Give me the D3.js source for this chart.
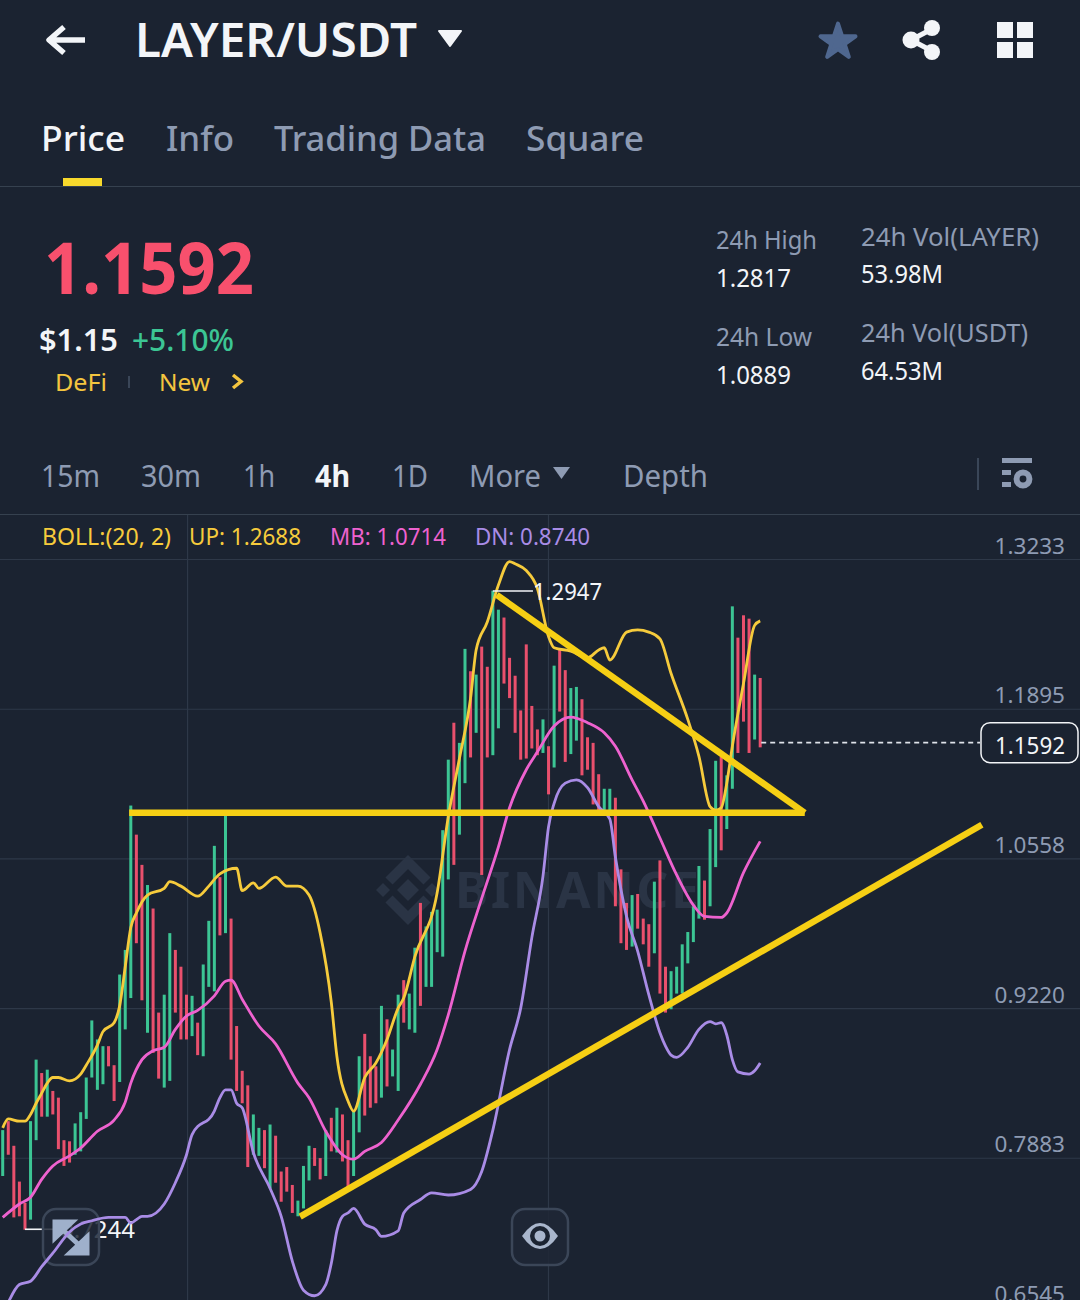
<!DOCTYPE html>
<html>
<head>
<meta charset="utf-8">
<script src="https://cdn.jsdelivr.net/npm/d3@7"></script>
<style>
  html, body { margin: 0; padding: 0; background: #1b2331; overflow: hidden; }
  svg { display: block; }
  text { font-family: "Noto Sans", Roboto, sans-serif; }
</style>
</head>
<body>
<div id="vis"></div>
<script>
// candles
const candleHigh = [
  0.813,0.821,0.799,0.767,0.748,0.821,0.876,0.864,0.867,0.848,
  0.842,0.804,0.803,0.819,0.829,0.860,0.911,0.894,0.888,0.888,
  0.871,0.952,0.974,1.103,1.077,1.050,1.032,1.011,0.918,0.934,
  0.989,0.974,0.959,0.934,0.933,0.909,0.961,1.000,1.067,1.039,
  1.095,1.002,0.906,0.866,0.853,0.827,0.815,0.813,0.818,0.808,
  0.776,0.780,0.764,0.750,0.781,0.799,0.797,0.788,0.813,0.824,
  0.833,0.827,0.804,0.830,0.879,0.899,0.879,0.870,0.924,0.912,
  0.885,0.934,0.947,0.935,0.976,1.016,0.995,1.008,1.010,1.081,
  1.144,1.177,1.159,1.243,1.223,1.220,1.245,1.227,1.295,1.278,
  1.271,1.235,1.219,1.188,1.247,1.192,1.171,1.180,1.156,1.228,
  1.242,1.224,1.208,1.209,1.198,1.164,1.159,1.131,1.118,1.118,
  1.110,1.046,1.016,1.023,1.024,1.002,0.997,1.035,1.054,0.959,
  0.955,0.959,0.979,0.990,1.013,1.049,1.036,1.082,1.143,1.147,
  1.130,1.281,1.253,1.273,1.270,1.220,1.217
];
const candleLow = [
  0.772,0.791,0.735,0.736,0.724,0.733,0.804,0.825,0.825,0.827,
  0.796,0.781,0.784,0.791,0.794,0.823,0.860,0.849,0.854,0.870,
  0.839,0.856,0.903,0.931,0.980,0.929,0.900,0.882,0.859,0.851,
  0.857,0.918,0.894,0.894,0.897,0.880,0.879,0.941,0.937,0.987,
  0.989,0.876,0.848,0.837,0.780,0.791,0.790,0.779,0.761,0.766,
  0.749,0.758,0.739,0.736,0.743,0.768,0.781,0.769,0.772,0.794,
  0.793,0.785,0.761,0.772,0.811,0.826,0.833,0.837,0.842,0.852,
  0.861,0.848,0.909,0.903,0.900,0.924,0.941,0.941,0.972,0.968,
  1.037,1.050,1.077,1.123,1.146,1.168,1.041,1.146,1.148,1.172,
  1.212,1.199,1.168,1.144,1.145,1.154,1.148,1.150,1.113,1.137,
  1.187,1.142,1.149,1.161,1.130,1.135,1.104,1.099,1.095,1.095,
  1.013,0.980,0.974,0.977,0.993,0.979,0.959,0.971,0.935,0.918,
  0.921,0.935,0.935,0.962,0.981,1.002,1.001,1.013,1.048,1.063,
  1.082,1.118,1.150,1.178,1.150,1.162,1.155
];
// 1 = green candle, 0 = red candle
const candleUp = [
  1,0,0,0,0,1,1,0,1,0,
  0,0,0,1,1,1,1,1,1,0,
  0,1,1,1,0,0,1,0,0,1,
  1,0,0,0,1,0,1,1,1,0,
  1,0,0,0,0,1,1,0,1,0,
  0,0,0,1,1,1,0,0,1,0,
  1,0,0,1,1,0,0,0,1,0,
  1,1,0,1,1,0,1,1,1,1,
  1,0,1,1,0,1,0,0,1,1,
  0,0,0,0,0,0,0,1,0,1,
  0,0,1,1,0,0,0,0,1,1,
  0,0,0,1,0,0,0,1,0,0,
  1,1,1,1,1,1,0,1,1,0,
  1,1,0,0,0,1,0
];

// BOLL bands, candle index and price
const upIndex = [
  0,1,3,4,5,6,7,8,9,10,12,14,15,17,18,20,21,22,23,24,
  26,29,30,32,35,37,39,42,43,45,46,49,51,53,55,57,59,60,62,63,
  65,67,69,71,72,74,78,80,82,84,85,87,89,91,92,94,96,98,99,102,
  105,107,108,109,112,114,116,118,120,123,125,127,128,129,130,131,133,135,136
];
const upValues = [
  0.815,0.823,0.821,0.821,0.827,0.837,0.846,0.855,0.860,0.860,0.857,0.863,0.871,0.889,0.901,0.909,0.924,0.959,0.994,1.007,
  1.023,1.029,1.035,1.031,1.022,1.031,1.042,1.047,1.027,1.034,1.029,1.039,1.031,1.031,1.023,0.989,0.927,0.879,0.839,0.830,
  0.860,0.873,0.894,0.922,0.931,0.968,1.025,1.093,1.145,1.199,1.242,1.267,1.300,1.321,1.319,1.313,1.297,1.254,1.244,1.241,
  1.235,1.242,1.244,1.233,1.258,1.260,1.258,1.252,1.221,1.180,1.147,1.102,1.099,1.101,1.123,1.156,1.212,1.264,1.268
];
const mbIndex = [
  0,3,5,7,9,12,14,17,20,22,23,25,27,29,31,33,35,38,40,41,
  43,46,49,53,55,58,61,63,65,68,71,75,78,80,83,86,89,91,94,96,
  99,102,105,108,110,113,115,118,121,124,126,129,130,133,136
];
const mbValues = [
  0.735,0.747,0.753,0.769,0.781,0.790,0.797,0.812,0.822,0.838,0.855,0.876,0.884,0.887,0.903,0.915,0.920,0.933,0.946,0.947,
  0.930,0.906,0.890,0.855,0.842,0.812,0.791,0.787,0.794,0.802,0.822,0.854,0.885,0.916,0.973,1.020,1.066,1.101,1.135,1.151,
  1.174,1.182,1.177,1.168,1.156,1.126,1.107,1.074,1.041,1.014,1.004,1.003,1.007,1.043,1.071
];
const dnIndex = [
  1,3,5,7,9,12,14,16,19,22,23,24,25,26,29,31,33,34,38,39,
  40,41,42,43,45,48,50,52,54,56,58,59,60,61,62,63,65,67,68,71,
  72,75,77,80,84,86,88,91,93,95,97,98,99,101,103,105,107,109,110,112,
  114,116,118,119,120,121,123,125,127,128,129,130,131,132,134,135,136
];
const dnValues = [
  0.659,0.675,0.678,0.691,0.703,0.722,0.729,0.732,0.735,0.735,0.730,0.733,0.736,0.736,0.747,0.766,0.791,0.809,0.830,0.842,
  0.849,0.849,0.837,0.833,0.793,0.761,0.736,0.696,0.670,0.665,0.675,0.694,0.723,0.736,0.739,0.743,0.729,0.724,0.718,0.723,
  0.739,0.751,0.757,0.755,0.760,0.776,0.813,0.885,0.922,0.985,1.040,1.084,1.105,1.123,1.126,1.119,1.102,1.091,1.057,1.004,
  0.973,0.934,0.900,0.888,0.880,0.878,0.887,0.903,0.910,0.908,0.909,0.898,0.876,0.865,0.863,0.866,0.873
];

// hand drawn trend lines, [candle index, price]
const trendFlat = [[22.7, 1.0965], [144, 1.0965]];
const trendDown = [[88.7, 1.2912], [144, 1.0965]];
const trendUp = [[53.4, 0.7357], [175.8, 1.0858]];

const priceTicks = [1.3233, 1.1895, 1.0558, 0.9220, 0.7883, 0.6545];
const gridCandles = [33.1, 97.9];
const lastPrice = 1.1592;
const topPrice = 1.2947;
const lowPrice = 0.7244;

const tabs = ["Price", "Info", "Trading Data", "Square"];
const intervals = ["15m", "30m", "1h", "4h", "1D", "More", "Depth"];

const COLORS = {
  bg: "#1b2331",
  grid: "#2e3848",
  muted: "#8e9bb3",
  white: "#f3f5f8",
  green: "#3cc594",
  red: "#e9506d",
  priceRed: "#f8506d",
  gold: "#f4c53f",
  trend: "#f6cf14",
  up: "#f6cb3c",
  mb: "#ee62cf",
  dn: "#a98ce6",
  mark: "#2a3445"
};

const svg = d3.select("#vis").append("svg").attr("width", 1080).attr("height", 1300);

const x = d3.scaleLinear().domain([0, 136]).range([2.7, 760.2]);
const y = d3.scaleLinear().domain([1.3233, 0.6545]).range([559, 1307.5]);

function label(str, px, py, size, fill, weight, anchor, fitWidth) {
  const t = svg.append("text")
    .attr("x", px).attr("y", py)
    .attr("font-size", size)
    .attr("font-weight", weight || 400)
    .attr("text-anchor", anchor || "start")
    .attr("fill", fill)
    .text(str);
  if (fitWidth) t.attr("textLength", fitWidth).attr("lengthAdjust", "spacingAndGlyphs");
  return t;
}

// ---- header
svg.append("path")
  .attr("d", "M85 40H50M64 27L49 40L64 53")
  .attr("fill", "none").attr("stroke", COLORS.white).attr("stroke-width", 5.5)
  .attr("stroke-linejoin", "round");
label("LAYER/USDT", 135, 57, 46, COLORS.white, 600, "start", 282);
svg.append("path").attr("d", "M439 31H461L450 46Z").attr("fill", COLORS.white)
  .attr("stroke", COLORS.white).attr("stroke-width", 2).attr("stroke-linejoin", "round");

svg.append("path")
  .attr("d", d3.symbol().type(d3.symbolStar).size(380))
  .attr("transform", "translate(838,42)")
  .attr("fill", "#4f678f").attr("stroke", "#4f678f").attr("stroke-width", 4).attr("stroke-linejoin", "round");

svg.append("path").attr("d", "M932 29L911 40L932 51").attr("fill", "none")
  .attr("stroke", COLORS.white).attr("stroke-width", 5);
[[932, 28, 8], [911, 40, 8.5], [932, 52, 8]].forEach(c => {
  svg.append("circle").attr("cx", c[0]).attr("cy", c[1]).attr("r", c[2]).attr("fill", COLORS.white);
});

[[997, 22], [1017, 22], [997, 42], [1017, 42]].forEach(c => {
  svg.append("rect").attr("x", c[0]).attr("y", c[1]).attr("width", 16).attr("height", 16).attr("fill", COLORS.white);
});

const tabX = [41, 166, 274, 526];
const tabW = [84, 68, 212, 118];
tabs.forEach((t, i) => label(t, tabX[i], 151, 35, i === 0 ? COLORS.white : COLORS.muted, 500, "start", tabW[i]));
svg.append("rect").attr("x", 63).attr("y", 178).attr("width", 39).attr("height", 8).attr("fill", "#f8d92c");
svg.append("rect").attr("x", 0).attr("y", 186).attr("width", 1080).attr("height", 1).attr("fill", "#36414f");

// ---- price block
label("1.1592", 44, 294, 72, COLORS.priceRed, 700, "start", 210);
label("$1.15", 39, 351, 30, COLORS.white, 600, "start", 79);
label("+5.10%", 132, 351, 30, COLORS.green, 500, "start", 102);
label("DeFi", 55, 391, 24, COLORS.gold, 400, "start", 52);
svg.append("rect").attr("x", 128).attr("y", 376).attr("width", 2).attr("height", 12).attr("fill", "#3a4658");
label("New", 159, 391, 24, COLORS.gold, 400, "start", 51);
svg.append("path").attr("d", "M233 375L241 381.5L233 388").attr("fill", "none")
  .attr("stroke", COLORS.gold).attr("stroke-width", 3.5);

label("24h High", 716, 249, 25, COLORS.muted, 400, "start", 101);
label("1.2817", 716, 287, 25, COLORS.white, 400, "start", 75);
label("24h Low", 716, 346, 25, COLORS.muted, 400, "start", 96);
label("1.0889", 716, 384, 25, COLORS.white, 400, "start", 75);
label("24h Vol(LAYER)", 861, 246, 25, COLORS.muted, 400, "start", 178);
label("53.98M", 861, 283, 25, COLORS.white, 400, "start", 82);
label("24h Vol(USDT)", 861, 342, 25, COLORS.muted, 400, "start", 167);
label("64.53M", 861, 380, 25, COLORS.white, 400, "start", 82);

// ---- interval row
const intervalX = [41, 141, 243, 315, 392, 469, 623];
const intervalW = [59, 60, 32, 35, 36, 72, 85];
intervals.forEach((t, i) => label(t, intervalX[i], 487, 30, t === "4h" ? COLORS.white : COLORS.muted, t === "4h" ? 700 : 400, "start", intervalW[i]));
svg.append("path").attr("d", "M553 467H570L561.5 479Z").attr("fill", COLORS.muted);
svg.append("rect").attr("x", 977).attr("y", 458).attr("width", 2).attr("height", 32).attr("fill", "#3a4658");
svg.append("rect").attr("x", 1002).attr("y", 458).attr("width", 30).attr("height", 5).attr("fill", COLORS.muted);
[470, 482].forEach(py => svg.append("rect").attr("x", 1002).attr("y", py).attr("width", 9).attr("height", 5).attr("fill", COLORS.muted));
svg.append("path")
  .attr("d", d3.symbol().type(d3.symbolCircle).size(130))
  .attr("transform", "translate(1023,479)")
  .attr("fill", COLORS.bg).attr("stroke", COLORS.muted).attr("stroke-width", 6);
svg.append("rect").attr("x", 0).attr("y", 514).attr("width", 1080).attr("height", 1).attr("fill", "#36414f");

// ---- grid
svg.append("g")
  .attr("transform", "translate(0,515)")
  .call(d3.axisBottom(x).tickValues(gridCandles).tickSize(785).tickFormat(""))
  .call(g => g.select(".domain").remove())
  .call(g => g.selectAll("line").attr("stroke", COLORS.grid).attr("stroke-width", 1.2));

const yAxis = svg.append("g")
  .attr("transform", "translate(1080,0)")
  .call(d3.axisLeft(y).tickValues(priceTicks).tickSize(1080).tickFormat(d3.format(".4f")))
  .call(g => g.select(".domain").remove());
yAxis.selectAll("line").attr("stroke", COLORS.grid).attr("stroke-width", 1.2);
yAxis.selectAll("text")
  .attr("x", -15).attr("dy", -6)
  .attr("font-size", 22.5)
  .attr("font-family", "'Noto Sans', Roboto, sans-serif")
  .attr("fill", COLORS.muted);

// ---- watermark
const wm = svg.append("g");
[[408, 890, 11], [383, 890, 7], [432, 890, 7]].forEach(d => {
  wm.append("path")
    .attr("d", `M${d[0] - d[2]} ${d[1]}L${d[0]} ${d[1] - d[2]}L${d[0] + d[2]} ${d[1]}L${d[0]} ${d[1] + d[2]}Z`)
    .attr("fill", COLORS.mark);
});
["M389 881L408 862L427 881", "M389 899L408 918L427 899"].forEach(p => {
  wm.append("path").attr("d", p).attr("fill", "none").attr("stroke", COLORS.mark).attr("stroke-width", 10);
});
wm.append("text").attr("x", 455).attr("y", 908).attr("font-size", 50).attr("font-weight", 700)
  .attr("fill", COLORS.mark).attr("textLength", 244).attr("lengthAdjust", "spacing").text("BINANCE");

// ---- indicator legend
label("BOLL:(20, 2)", 42, 545, 23, COLORS.up, 400, "start", 129);
label("UP: 1.2688", 189, 545, 23, COLORS.up, 400, "start", 112);
label("MB: 1.0714", 330, 545, 23, COLORS.mb, 400, "start", 116);
label("DN: 0.8740", 475, 545, 23, COLORS.dn, 400, "start", 115);

// ---- candles
svg.append("g").selectAll("rect")
  .data(candleHigh.map((h, i) => ({ i: i, high: h, low: candleLow[i], up: candleUp[i] })))
  .join("rect")
  .attr("x", d => x(d.i) - 1.5)
  .attr("width", 3)
  .attr("y", d => y(d.high))
  .attr("height", d => y(d.low) - y(d.high))
  .attr("fill", d => d.up ? COLORS.green : COLORS.red);

// ---- low marker, sits under the button
svg.append("line").attr("x1", x(4)).attr("x2", x(9.4)).attr("y1", y(lowPrice)).attr("y2", y(lowPrice))
  .attr("stroke", COLORS.white).attr("stroke-width", 1.6);
label(d3.format(".4f")(lowPrice), 135, y(lowPrice) + 9, 24, COLORS.white, 400, "end");

// ---- floating buttons
function floatButton(bx, by) {
  svg.append("rect").attr("x", bx).attr("y", by).attr("width", 56).attr("height", 56).attr("rx", 13)
    .attr("fill", "#1e2736").attr("fill-opacity", 0.85)
    .attr("stroke", "#3b4658").attr("stroke-width", 2.5);
}
floatButton(43, 1209);
svg.append("path")
  .attr("d", "M55 1222H72L55 1238ZM87 1253H70L87 1237ZM63 1230L79 1245")
  .attr("fill", "#9fb0cb").attr("stroke", "#9fb0cb").attr("stroke-width", 5);

floatButton(512, 1209);
svg.append("path")
  .attr("d", "M522 1236Q540 1210 558 1236Q540 1262 522 1236Z")
  .attr("fill", "#a9b6cc");
svg.append("circle").attr("cx", 540).attr("cy", 1236).attr("r", 10).attr("fill", COLORS.bg);
svg.append("circle").attr("cx", 540).attr("cy", 1236).attr("r", 5.5).attr("fill", "#a9b6cc");

// ---- BOLL lines
const bandLine = d3.line().x(d => x(d[0])).y(d => y(d[1])).curve(d3.curveMonotoneX);
[[upIndex, upValues, COLORS.up], [mbIndex, mbValues, COLORS.mb], [dnIndex, dnValues, COLORS.dn]].forEach(b => {
  svg.append("path")
    .datum(b[0].map((idx, k) => [idx, b[1][k]]))
    .attr("d", bandLine)
    .attr("fill", "none")
    .attr("stroke", b[2])
    .attr("stroke-width", 2.8);
});

// ---- trend lines
const trendLine = d3.line().x(d => x(d[0])).y(d => y(d[1]));
[trendFlat, trendDown, trendUp].forEach(t => {
  svg.append("path").datum(t).attr("d", trendLine)
    .attr("fill", "none").attr("stroke", COLORS.trend).attr("stroke-width", 6.5);
});

// ---- top marker
svg.append("line").attr("x1", x(88)).attr("x2", x(95.2)).attr("y1", y(topPrice)).attr("y2", y(topPrice))
  .attr("stroke", COLORS.white).attr("stroke-width", 1.6);
label(d3.format(".4f")(topPrice), 533, y(topPrice) + 9, 24, COLORS.white, 400, "start", 69);

// ---- last price
svg.append("line").attr("x1", x(136) + 1).attr("x2", 980).attr("y1", y(lastPrice)).attr("y2", y(lastPrice))
  .attr("stroke", "#dfe3ea").attr("stroke-width", 1.6).attr("stroke-dasharray", "5 4");
svg.append("rect").attr("x", 981).attr("y", y(lastPrice) - 20).attr("width", 97).attr("height", 40).attr("rx", 9)
  .attr("fill", COLORS.bg).attr("stroke", COLORS.white).attr("stroke-width", 1.5);
label(d3.format(".4f")(lastPrice), 995, y(lastPrice) + 11, 24, COLORS.white, 400, "start", 70);
</script>
</body>
</html>
